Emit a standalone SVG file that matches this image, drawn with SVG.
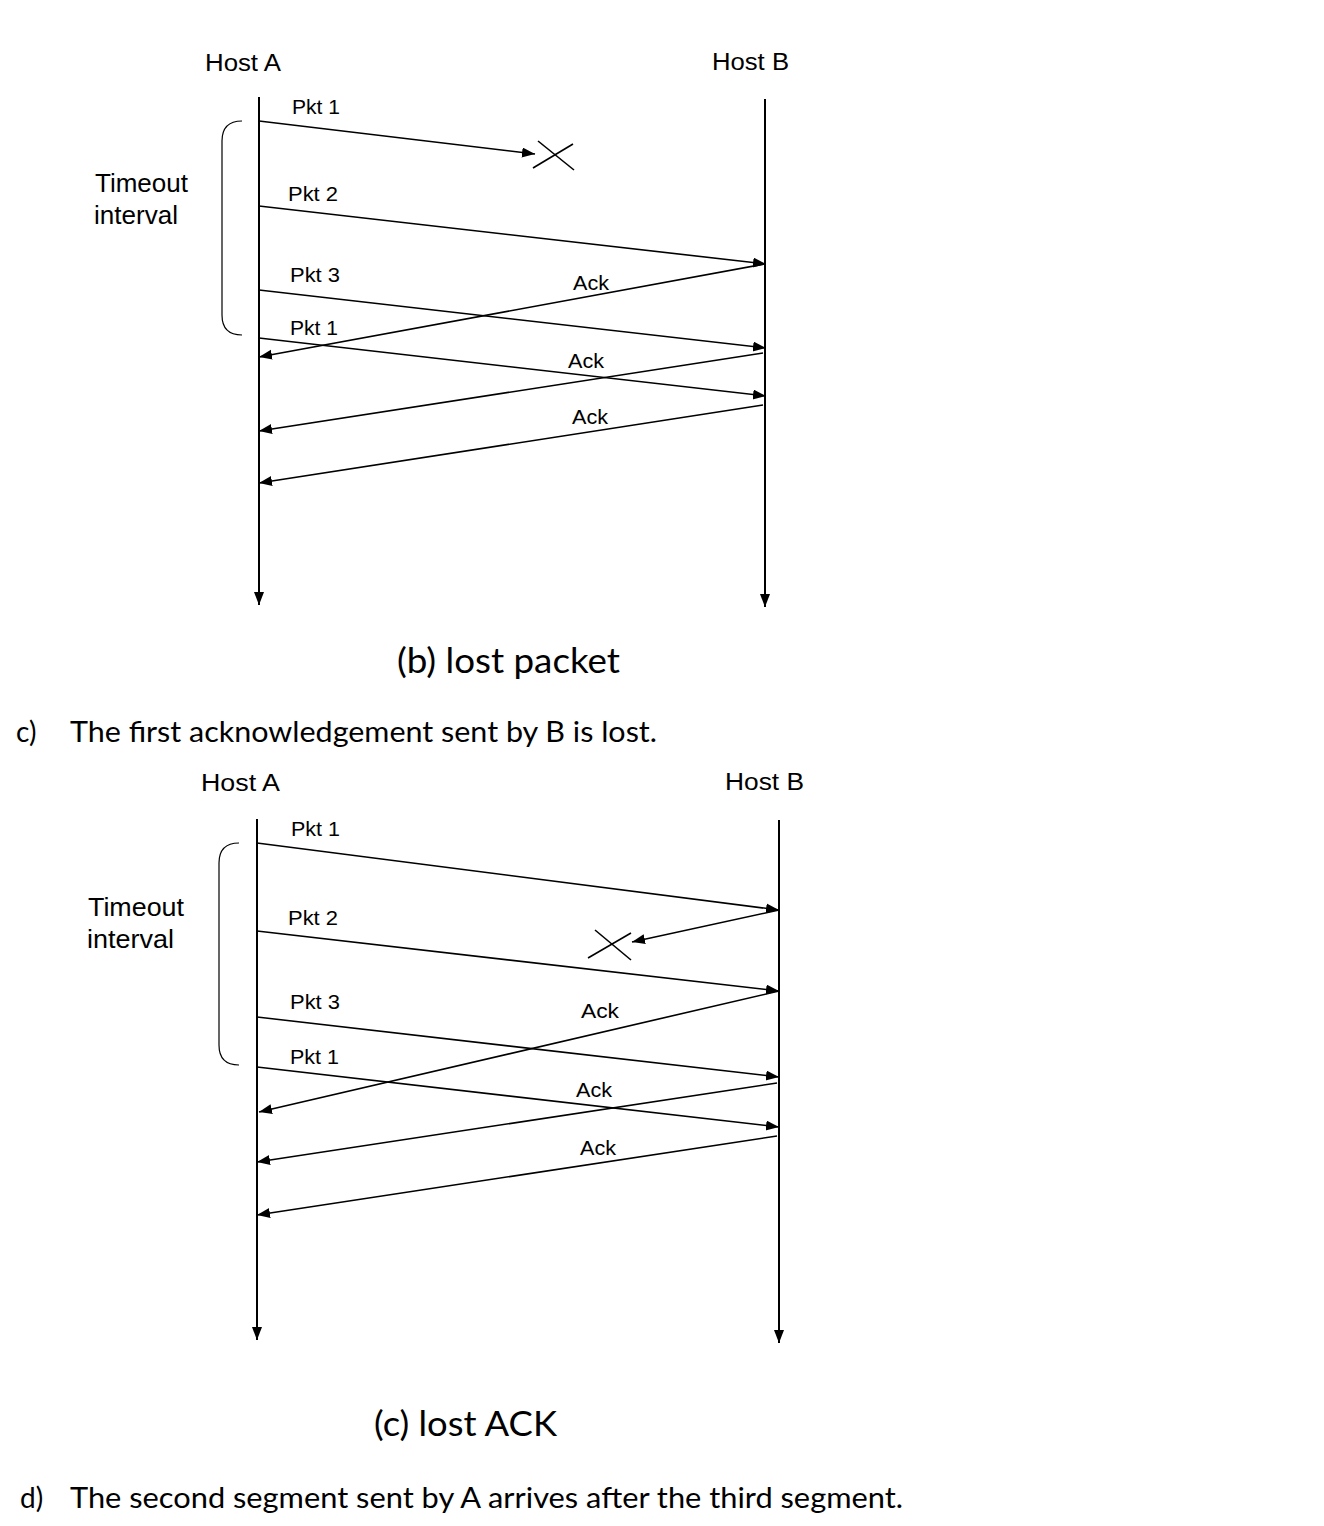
<svg xmlns="http://www.w3.org/2000/svg" width="1324" height="1526" viewBox="0 0 1324 1526">
<defs>
<marker id="ah" markerUnits="userSpaceOnUse" markerWidth="14" markerHeight="12" refX="13" refY="5" orient="auto">
<path d="M0,0 L13,5 L0,10 z" fill="#000"/>
</marker>
<style>
.host{font-family:"Liberation Sans",Arial,sans-serif;font-size:23.5px;fill:#000}
.lbl{font-family:"Liberation Sans",Arial,sans-serif;font-size:19.5px;fill:#000}
.to{font-family:"Liberation Sans",Arial,sans-serif;font-size:25px;fill:#000}
.cap{font-family:Lato,"Open Sans",sans-serif;font-size:34px;fill:#000}
.q{font-family:Lato,"Open Sans",sans-serif;font-size:28px;fill:#000}
.life{stroke:#000;stroke-width:2;fill:none}
.msg{stroke:#000;stroke-width:1.6;fill:none}
.br{stroke:#000;stroke-width:1.2;fill:none}
</style>
</defs>
<rect width="1324" height="1526" fill="#fff"/>

<!-- Diagram (b) -->
<g id="b-hostA"><text class="host" x="205" y="71" textLength="76" lengthAdjust="spacingAndGlyphs">Host A</text><line class="life" x1="259" y1="97" x2="259" y2="605" marker-end="url(#ah)"/></g>
<g id="b-hostB"><text class="host" x="712" y="70" textLength="77" lengthAdjust="spacingAndGlyphs">Host B</text><line class="life" x1="765" y1="99" x2="765" y2="607" marker-end="url(#ah)"/></g>
<g id="b-timeout"><path class="br" d="M242,121 Q222,121 222,141 L222,315 Q222,335 242,335"/><text class="to" x="95" y="192" textLength="93" lengthAdjust="spacingAndGlyphs">Timeout</text><text class="to" x="94" y="224" textLength="84" lengthAdjust="spacingAndGlyphs">interval</text></g>
<g id="b-loss"><line class="msg" x1="533" y1="168" x2="573" y2="144"/><line class="msg" x1="538" y1="141" x2="574" y2="170"/></g>
<g id="b-labels">
<text class="lbl" x="292" y="114" textLength="48" lengthAdjust="spacingAndGlyphs">Pkt 1</text>
<text class="lbl" x="288" y="201" textLength="50" lengthAdjust="spacingAndGlyphs">Pkt 2</text>
<text class="lbl" x="290" y="282" textLength="50" lengthAdjust="spacingAndGlyphs">Pkt 3</text>
<text class="lbl" x="290" y="335" textLength="48" lengthAdjust="spacingAndGlyphs">Pkt 1</text>
<text class="lbl" x="573" y="290" textLength="36" lengthAdjust="spacingAndGlyphs">Ack</text>
<text class="lbl" x="568" y="368" textLength="36" lengthAdjust="spacingAndGlyphs">Ack</text>
<text class="lbl" x="572" y="424" textLength="36" lengthAdjust="spacingAndGlyphs">Ack</text>
</g>
<g id="b-connectors">
<line class="msg" x1="259" y1="121" x2="535" y2="154" marker-end="url(#ah)"/>
<line class="msg" x1="259" y1="206" x2="766" y2="264" marker-end="url(#ah)"/>
<line class="msg" x1="765" y1="264" x2="259" y2="357" marker-end="url(#ah)"/>
<line class="msg" x1="259" y1="290" x2="766" y2="348" marker-end="url(#ah)"/>
<line class="msg" x1="259" y1="338" x2="766" y2="396" marker-end="url(#ah)"/>
<line class="msg" x1="763" y1="353" x2="259" y2="431" marker-end="url(#ah)"/>
<line class="msg" x1="763" y1="405" x2="259" y2="483" marker-end="url(#ah)"/>
</g>
<text class="cap" x="397" y="673" textLength="223" lengthAdjust="spacingAndGlyphs">(b) lost packet</text>
<text class="q" x="16" y="742">c)</text>
<text class="q" x="70" y="742" textLength="587" lengthAdjust="spacingAndGlyphs">The first acknowledgement sent by B is lost.</text>

<!-- Diagram (c) -->
<g id="c-hostA"><text class="host" x="201" y="791" textLength="79" lengthAdjust="spacingAndGlyphs">Host A</text><line class="life" x1="257" y1="819" x2="257" y2="1340" marker-end="url(#ah)"/></g>
<g id="c-hostB"><text class="host" x="725" y="790" textLength="79" lengthAdjust="spacingAndGlyphs">Host B</text><line class="life" x1="779" y1="820" x2="779" y2="1343" marker-end="url(#ah)"/></g>
<g id="c-timeout"><path class="br" d="M239,843 Q219,843 219,863 L219,1045 Q219,1065 239,1065"/><text class="to" x="88" y="916" textLength="96" lengthAdjust="spacingAndGlyphs">Timeout</text><text class="to" x="87" y="948" textLength="87" lengthAdjust="spacingAndGlyphs">interval</text></g>
<g id="c-loss"><line class="msg" x1="588" y1="958" x2="631" y2="933"/><line class="msg" x1="595" y1="930" x2="631" y2="960"/></g>
<g id="c-labels">
<text class="lbl" x="291" y="836" textLength="49" lengthAdjust="spacingAndGlyphs">Pkt 1</text>
<text class="lbl" x="288" y="925" textLength="50" lengthAdjust="spacingAndGlyphs">Pkt 2</text>
<text class="lbl" x="290" y="1009" textLength="50" lengthAdjust="spacingAndGlyphs">Pkt 3</text>
<text class="lbl" x="290" y="1064" textLength="49" lengthAdjust="spacingAndGlyphs">Pkt 1</text>
<text class="lbl" x="581" y="1018" textLength="38" lengthAdjust="spacingAndGlyphs">Ack</text>
<text class="lbl" x="576" y="1097" textLength="36" lengthAdjust="spacingAndGlyphs">Ack</text>
<text class="lbl" x="580" y="1155" textLength="36" lengthAdjust="spacingAndGlyphs">Ack</text>
</g>
<g id="c-connectors">
<line class="msg" x1="257" y1="843" x2="779" y2="910" marker-end="url(#ah)"/>
<line class="msg" x1="779" y1="910" x2="632" y2="942" marker-end="url(#ah)"/>
<line class="msg" x1="257" y1="931" x2="779" y2="991" marker-end="url(#ah)"/>
<line class="msg" x1="779" y1="991" x2="259" y2="1112" marker-end="url(#ah)"/>
<line class="msg" x1="257" y1="1017" x2="779" y2="1077" marker-end="url(#ah)"/>
<line class="msg" x1="257" y1="1067" x2="779" y2="1127" marker-end="url(#ah)"/>
<line class="msg" x1="777" y1="1083" x2="257" y2="1162" marker-end="url(#ah)"/>
<line class="msg" x1="777" y1="1136" x2="257" y2="1215" marker-end="url(#ah)"/>
</g>
<text class="cap" x="374" y="1436" textLength="183" lengthAdjust="spacingAndGlyphs">(c) lost ACK</text>
<text class="q" x="20" y="1508">d)</text>
<text class="q" x="70" y="1508" textLength="833" lengthAdjust="spacingAndGlyphs">The second segment sent by A arrives after the third segment.</text>
</svg>
